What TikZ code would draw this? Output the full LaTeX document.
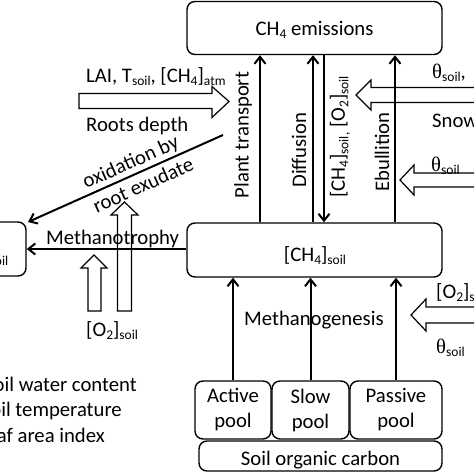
\documentclass[tikz,border=0pt]{standalone}
\usepackage{fontspec}
\setmainfont{Carlito}
\newfontfamily\thfont{Liberation Serif}
\usetikzlibrary{arrows.meta}
\newcommand{\sub}[1]{\raisebox{-0.35ex}{\fontsize{13.5}{14}\selectfont #1}}
\newcommand{\thet}{{\thfont θ}}
\begin{document}
\begin{tikzpicture}[x=1pt,y=-1pt,
  font=\fontsize{20.7}{25}\selectfont,
  box/.style={draw, line width=1.4pt, rounded corners=8pt, inner sep=0pt},
  flow/.style={line width=2pt, -{Straight Barb[length=7pt,width=11pt]}},
  hollow/.style={draw, line width=1.2pt, line join=miter},
  lbl/.style={inner sep=0pt}]
\useasboundingbox (0,0) rectangle (474,474);

% boxes
\node[box, minimum width=255pt, minimum height=53pt] (emis) at (314.5,28) {};
\node[lbl, anchor=base] (emist) at (314.5,35) {CH\sub{4} emissions};
\node[box, minimum width=255pt, minimum height=54pt] (soil) at (314.5,250) {};
\node[lbl, anchor=base] (soilt) at (315,261) {[CH\sub{4}]\sub{soil}};
\node[box, minimum width=90pt, minimum height=54pt] (left) at (-19,249) {};
\node[lbl, anchor=base east] (leftt) at (8.5,262) {\sub{soil}};
\node[box, minimum width=76pt, minimum height=58pt, align=center] (active) at (233,410) {Active\\pool};
\node[box, minimum width=77pt, minimum height=58pt, align=center] (slow) at (310.5,410) {Slow\\pool};
\node[box, minimum width=92pt, minimum height=58pt, align=center] (passive) at (396,410) {Passive\\pool};
\node[box, minimum width=243pt, minimum height=30pt] (soc) at (320.5,456) {};
\node[lbl, anchor=base] (soct) at (320.5,465) {Soil organic carbon};

% coordinates for vertical fluxes
\coordinate (xpt) at (260,0);
\coordinate (xdu) at (313,0);
\coordinate (xdd) at (324,0);
\coordinate (xeb) at (395,0);
\draw[flow] (soil.north -| xpt) -- (emis.south -| xpt);
\draw[flow] (soil.north -| xdu) -- (emis.south -| xdu);
\draw[flow] (emis.south -| xdd) -- (soil.north -| xdd);
\draw[flow] (soil.north -| xeb) -- (emis.south -| xeb);
\node[lbl, rotate=90] (ptl) at (243,135) {Plant transport};
\node[lbl, rotate=90] (dfl) at (299,150) {Diffusion};
\node[lbl, rotate=90] (cnl) at (340,137) {[CH\sub{4}]\sub{soil,} [O\sub{2}]\sub{soil}};
\node[lbl, rotate=90] (ebl) at (382,152) {Ebullition};

% methanogenesis
\draw[flow] (active.north) -- (active.north |- soil.south);
\draw[flow] (slow.north) -- (slow.north |- soil.south);
\draw[flow] (passive.north) -- (passive.north |- soil.south);
\node[lbl, anchor=base west] (mgl) at (244,325) {Methanogenesis};

% methanotrophy
\coordinate (ymt) at (0,249);
\draw[flow] (soil.west |- ymt) -- (left.east |- ymt);
\node[lbl, anchor=base west] (mtl) at (46,244) {Methanotrophy};

% oxidation by root exudate
\coordinate (rxs) at (223,135);
\coordinate (rxe) at (28,222);
\draw[flow] (rxs) -- (rxe);
\node[lbl, rotate=24] (rx1) at (131,163) {oxidation by};
\node[lbl, rotate=24] (rx2) at (143,185) {root exudate};

% hollow block arrows
\draw[hollow] (79,93.5) -- (212,93.5) -- (212,86.5) -- (229,101.5) -- (212,117.5) -- (212,108.5) -- (79,108.5) -- cycle;
\node[lbl, anchor=base west] (lai) at (86,82) {LAI, T\sub{soil}, [CH\sub{4}]\sub{atm}};
\node[lbl, anchor=base west] (rd) at (86,131) {Roots depth};

\draw[hollow] (480,87.5) -- (371,87.5) -- (371,80) -- (356,95) -- (371,110) -- (371,102.5) -- (480,102.5);
\node[lbl, anchor=base west] (r1a) at (432,78) {\thet\sub{soil},};
\node[lbl, anchor=base west] (r1b) at (432,127) {Snow};

\draw[hollow] (480,173) -- (414,173) -- (414,165) -- (400,180) -- (414,195) -- (414,187) -- (480,187);
\node[lbl, anchor=base west] (r2a) at (431,171) {\thet\sub{soil}};

\draw[hollow] (480,307) -- (426,307) -- (426,299) -- (411,315) -- (426,331) -- (426,323) -- (480,323);
\node[lbl, anchor=base west] (r3a) at (436,298) {[O\sub{2}]\sub{soil}};
\node[lbl, anchor=base west] (r3b) at (436,353) {\thet\sub{soil}};

\draw[hollow] (88,311) -- (88,268) -- (81,268) -- (94,255) -- (107,268) -- (101,268) -- (101,311) -- cycle;
\draw[hollow] (117.5,311) -- (117.5,215) -- (111,215) -- (124.5,202) -- (138,215) -- (131.5,215) -- (131.5,311) -- cycle;
\node[lbl, anchor=base west] (o2l) at (86,336) {[O\sub{2}]\sub{soil}};

% legend (cut at left edge)
\node[lbl, anchor=base east] (lg1) at (137,391) {Soil water content};
\node[lbl, anchor=base east] (lg2) at (122,416) {Soil temperature};
\node[lbl, anchor=base east] (lg3) at (105,442) {Leaf area index};
\end{tikzpicture}
\end{document}
